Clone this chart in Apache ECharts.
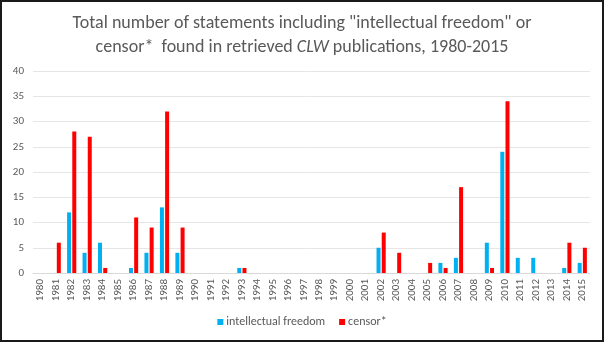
<!DOCTYPE html>
<html><head><meta charset="utf-8">
<script src="https://cdn.jsdelivr.net/npm/echarts@6/dist/echarts.min.js"></script>
<style>
html,body{margin:0;padding:0;background:#fff;}
#frame{position:absolute;left:0;top:0;width:600px;height:338px;border:2px solid #1a1a1a;background:#fff;}
#c{width:600px;height:338px;}
</style></head>
<body><div id="frame"><div id="c"></div></div>
<script>
const years = ["1980","1981","1982","1983","1984","1985","1986","1987","1988","1989","1990","1991","1992","1993","1994","1995","1996","1997","1998","1999","2000","2001","2002","2003","2004","2005","2006","2007","2008","2009","2010","2011","2012","2013","2014","2015"];
const intellectualFreedom = [0,0,12,4,6,0,1,4,13,4,0,0,0,1,0,0,0,0,0,0,0,0,5,0,0,0,2,3,0,6,24,3,3,0,1,2];
const censor = [0,6,28,27,1,0,11,9,32,9,0,0,0,1,0,0,0,0,0,0,0,0,8,4,0,2,1,17,0,1,34,0,0,0,6,5];
const seriesNames = ["intellectual freedom","censor*"];
const titleLines = ['Total number of statements including "intellectual freedom" or', 'censor*  found in retrieved {i|CLW} publications, 1980-2015'];

const chart = echarts.init(document.getElementById('c'));
const font = 'Calibri, Carlito, "Open Sans", "Liberation Sans", sans-serif';
chart.setOption({
  animation:false,
  title:{
    text: titleLines.join('\n'),
    left:'center', top:4,
    textStyle:{fontFamily:font, fontSize:18, fontWeight:'normal', color:'#595959', lineHeight:24,
      rich:{i:{fontFamily:font, fontSize:18, fontStyle:'italic', color:'#595959', lineHeight:24}}}
  },
  legend:{
    data:seriesNames, bottom:7, left:'center', itemWidth:6, itemHeight:6, itemGap:14,
    icon:'rect',
    textStyle:{fontFamily:font, fontSize:12, color:'#595959', padding:[0,0,0,-2]}
  },
  grid:{left:31, right:12, top:69, bottom:67, containLabel:false},
  xAxis:{
    type:'category', data:years,
    axisLine:{lineStyle:{color:'#d9d9d9'}},
    axisTick:{show:false},
    axisLabel:{rotate:90, interval:0, fontFamily:font, fontSize:11, color:'#595959', margin:6}
  },
  yAxis:{
    type:'value', min:0, max:40, interval:5,
    axisLine:{show:false}, axisTick:{show:false},
    splitLine:{lineStyle:{color:'#e6e6e6', width:1}},
    axisLabel:{fontFamily:font, fontSize:11, color:'#595959', margin:9}
  },
  series:[
    {name:seriesNames[0], type:'bar', data:intellectualFreedom, barWidth:4, barGap:'30%', itemStyle:{color:'#00B0F0'}},
    {name:seriesNames[1], type:'bar', data:censor, barWidth:4, barGap:'30%', itemStyle:{color:'#FF0000'}}
  ]
});
</script></body></html>
